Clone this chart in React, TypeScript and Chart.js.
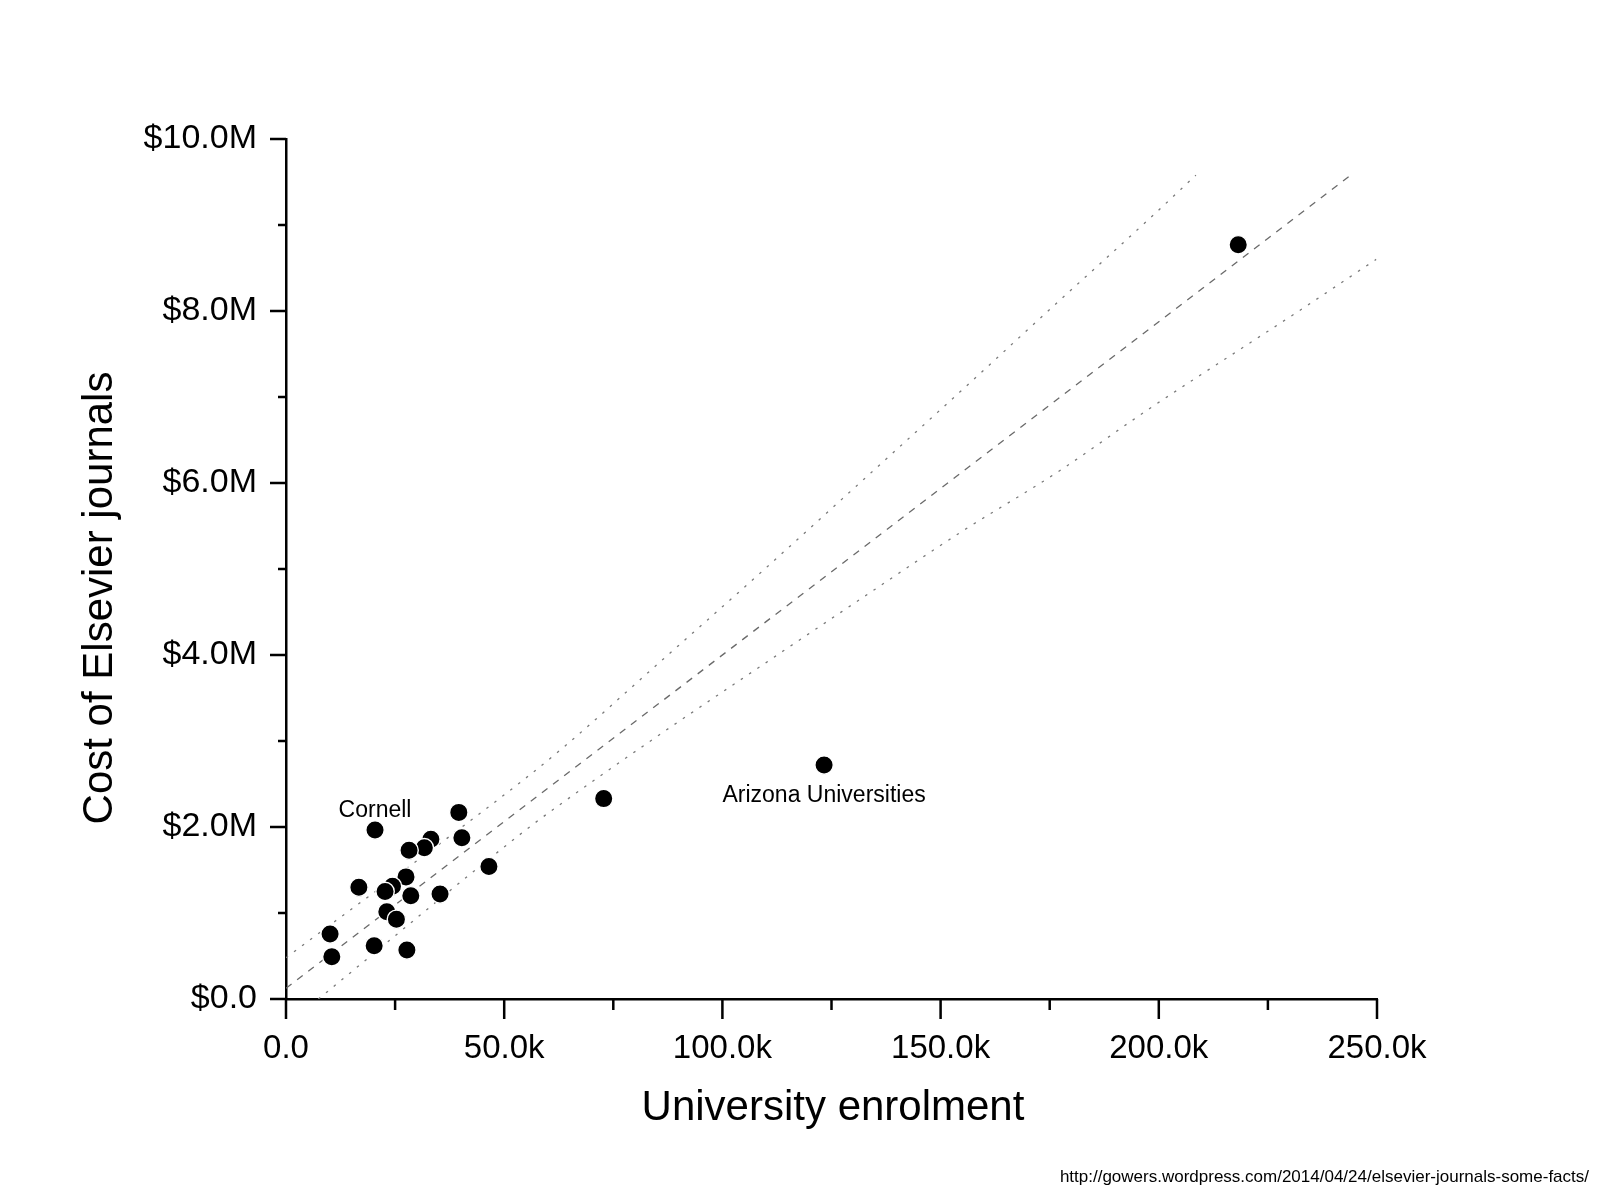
import React, { useEffect, useRef } from "react";
import { Chart, registerables } from "chart.js";

Chart.register(...registerables);

// University enrolment (thousands) and cost of Elsevier journals ($ millions)
const enrolmentK = [20.4, 39.6, 40.3, 33.2, 31.7, 28.2, 46.5, 27.5, 24.4, 22.7, 16.7, 28.6, 35.3, 23.1, 25.3, 10.1, 10.5, 20.2, 27.7, 72.8, 123.3, 218.2];
const costM = [1.965, 2.17, 1.875, 1.857, 1.76, 1.73, 1.54, 1.42, 1.31, 1.25, 1.3, 1.2, 1.22, 1.015, 0.927, 0.756, 0.49, 0.62, 0.57, 2.33, 2.72, 8.77];

// Labelled points
const annotationNames = ["Cornell", "Arizona Universities"];
const annotationIndex = [0, 20];

// Fitted line
const fitX = [0, 244];
const fitY = [0.125, 9.58];

// Upper band
const upperX = [0, 54.4, 63.9, 85.5, 108.6, 130.6, 155.1, 177.0, 198.0, 208.5];
const upperY = [0.48, 2.547, 2.94, 3.91, 4.95, 5.96, 7.09, 8.11, 9.08, 9.58];

// Lower band
const lowerX = [7.4, 55.9, 63.5, 85.5, 108.6, 130.4, 154.8, 176.6, 198.0, 220.0, 231.2, 249.8];
const lowerY = [0.0, 2.003, 2.287, 3.07, 3.864, 4.608, 5.434, 6.12, 6.87, 7.6, 7.97, 8.6];

// Axis ticks
const xMajor = [0, 50, 100, 150, 200, 250];
const xMinor = [25, 75, 125, 175, 225];
const yMajor = [0, 2, 4, 6, 8, 10];
const yMinor = [1, 3, 5, 7, 9];

const xTitle = "University enrolment";
const yTitle = "Cost of Elsevier journals";
const sourceText = "http://gowers.wordpress.com/2014/04/24/elsevier-journals-some-facts/";

const FONT = '"Liberation Sans", Arial, Helvetica, sans-serif';

const toXY = (xs: number[], ys: number[]) => xs.map((x, i) => ({ x, y: ys[i] }));

const decorPlugin = {
  id: "decor",
  afterDraw(chart: any) {
    const ctx = chart.ctx as CanvasRenderingContext2D;
    const xs = chart.scales.x;
    const ys = chart.scales.y;
    const { left, bottom } = chart.chartArea;
    ctx.save();
    ctx.strokeStyle = "#000";
    ctx.lineWidth = 2.5;
    ctx.lineCap = "butt";
    ctx.beginPath();
    xMajor.forEach((v) => {
      const p = xs.getPixelForValue(v);
      ctx.moveTo(p, bottom);
      ctx.lineTo(p, bottom + 20);
    });
    xMinor.forEach((v) => {
      const p = xs.getPixelForValue(v);
      ctx.moveTo(p, bottom);
      ctx.lineTo(p, bottom + 11);
    });
    yMajor.forEach((v) => {
      const p = ys.getPixelForValue(v);
      ctx.moveTo(left, p);
      ctx.lineTo(left - 16, p);
    });
    yMinor.forEach((v) => {
      const p = ys.getPixelForValue(v);
      ctx.moveTo(left, p);
      ctx.lineTo(left - 8, p);
    });
    ctx.stroke();

    ctx.fillStyle = "#000";
    // axis titles
    ctx.font = `42px ${FONT}`;
    ctx.textAlign = "center";
    ctx.textBaseline = "alphabetic";
    ctx.fillText(xTitle, 833, 1120);
    ctx.save();
    ctx.translate(112, 598);
    ctx.rotate(-Math.PI / 2);
    ctx.fillText(yTitle, 0, 0);
    ctx.restore();

    // annotations
    ctx.font = `23px ${FONT}`;
    annotationIndex.forEach((idx, k) => {
      const px = xs.getPixelForValue(enrolmentK[idx]);
      const py = ys.getPixelForValue(costM[idx]);
      const dy = k === 0 ? -13 : 37;
      ctx.fillText(annotationNames[k], px, py + dy);
    });

    // source
    ctx.font = `17px ${FONT}`;
    ctx.textAlign = "right";
    ctx.fillText(sourceText, 1589, 1182);
    ctx.restore();
  },
};

export default function App() {
  const ref = useRef<HTMLCanvasElement | null>(null);
  useEffect(() => {
    if (!ref.current) return;
    const chart = new Chart(ref.current, {
      type: "scatter",
      data: {
        datasets: [
          {
            label: "Universities",
            data: toXY(enrolmentK, costM),
            backgroundColor: "#000",
            borderColor: "#fff",
            borderWidth: 1.4,
            pointRadius: 9.2,
            pointHoverRadius: 9.2,
          },
          {
            type: "line",
            label: "Fit",
            data: toXY(fitX, fitY),
            borderColor: "#6a6a6a",
            borderWidth: 1.3,
            borderDash: [7, 7],
            pointRadius: 0,
            fill: false,
          },
          {
            type: "line",
            label: "Upper",
            data: toXY(upperX, upperY),
            borderColor: "#7a7a7a",
            borderWidth: 1.3,
            borderDash: [2.5, 7.5],
            pointRadius: 0,
            cubicInterpolationMode: "monotone",
            fill: false,
          },
          {
            type: "line",
            label: "Lower",
            data: toXY(lowerX, lowerY),
            borderColor: "#7a7a7a",
            borderWidth: 1.3,
            borderDash: [2.5, 7.5],
            pointRadius: 0,
            cubicInterpolationMode: "monotone",
            fill: false,
          },
        ] as any,
      },
      options: {
        animation: false,
        responsive: false,
        maintainAspectRatio: false,
        layout: { padding: { left: 0, right: 223, top: 139, bottom: 0 } },
        plugins: {
          legend: { display: false },
          tooltip: { enabled: false },
        },
        scales: {
          x: {
            type: "linear",
            min: 0,
            max: 250,
            afterFit: (s: any) => {
              s.height = 199;
            },
            afterBuildTicks: (s: any) => {
              s.ticks = xMajor.map((v) => ({ value: v }));
            },
            ticks: {
              color: "#000",
              font: { family: FONT, size: 33 },
              padding: 30,
              maxRotation: 0,
              autoSkip: false,
              callback: (v: any) => (Number(v) === 0 ? "0.0" : Number(v).toFixed(1) + "k"),
            },
            grid: { display: true, drawOnChartArea: false, drawTicks: false },
            border: { display: true, color: "#000", width: 2.5 },
          },
          y: {
            type: "linear",
            min: 0,
            max: 10,
            afterFit: (s: any) => {
              s.width = 286;
            },
            afterBuildTicks: (s: any) => {
              s.ticks = yMajor.map((v) => ({ value: v }));
            },
            ticks: {
              color: "#000",
              font: { family: FONT, size: 34 },
              padding: 29,
              autoSkip: false,
              callback: (v: any) => "$" + Number(v).toFixed(1) + (Number(v) === 0 ? "" : "M"),
            },
            grid: { display: true, drawOnChartArea: false, drawTicks: false },
            border: { display: true, color: "#000", width: 2.5 },
          },
        },
      },
      plugins: [decorPlugin],
    });
    return () => chart.destroy();
  }, []);

  return (
    <div style={{ position: "absolute", left: 0, top: 0, width: 1600, height: 1198, background: "#fff" }}>
      <canvas ref={ref} width={1600} height={1198} style={{ display: "block", width: 1600, height: 1198 }} />
    </div>
  );
}
